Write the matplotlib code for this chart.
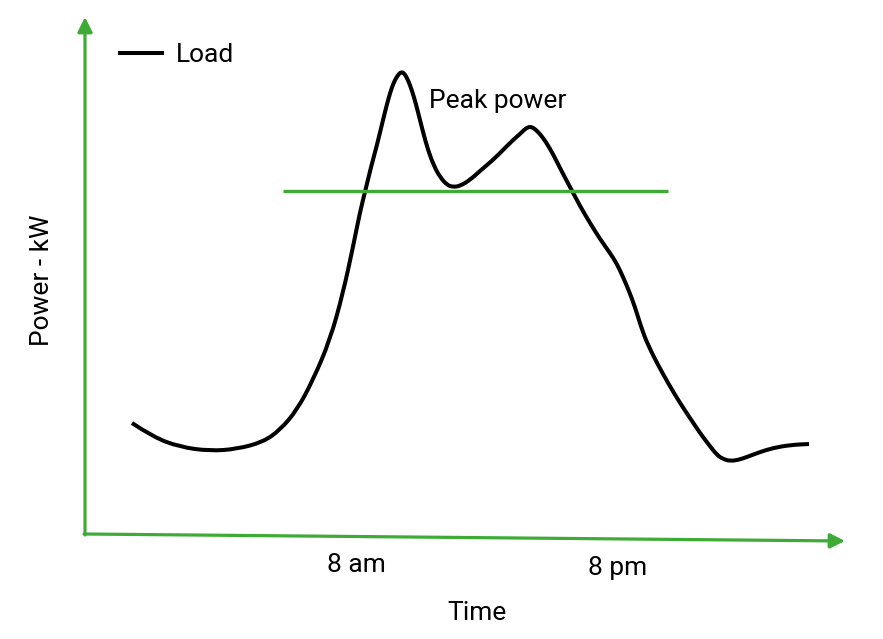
import matplotlib.pyplot as plt
from matplotlib.path import Path
from matplotlib.patches import PathPatch

plt.rcParams['font.family'] = ['Roboto', 'DejaVu Sans']

green = '#3dab35'

# Load curve (x, y in picture units, y grows downward)
load_x = [132, 153, 180, 210, 237, 263, 280, 297, 313, 330, 343, 353, 360, 365,
          371, 377, 383, 388, 392, 395, 398, 401, 404, 407, 410, 414, 418, 423,
          428, 434, 440, 447, 453, 460, 470, 481, 493, 503, 513, 520, 524, 528,
          532, 536, 540, 546, 553, 561, 570, 580, 590, 600, 610, 617, 623, 629,
          635, 643, 650, 657, 668, 680, 690, 700, 709, 717, 723, 730, 738, 747,
          760, 773, 790, 809]
load_y = [423, 437, 447, 451, 449, 442, 430, 410, 380, 340, 293, 247, 212, 192,
          167, 145, 120, 100, 87, 80, 75, 72, 73, 78, 85, 97, 112, 132,
          150, 166, 177, 185, 187, 186, 180, 170, 160, 150, 140, 134, 130, 127,
          127, 130, 134, 142, 154, 170, 187, 206, 223, 239, 253, 264, 277, 291,
          307, 333, 349, 363, 383, 403, 418, 433, 445, 455, 459, 461, 460, 457,
          452, 448, 445, 444]

# Peak power threshold line
peak_x = [283, 668]
peak_y = [191, 191]

tick_pos = [356, 618]
tick_base = [572, 575]
tick_labels = ['8 am', '8 pm']

fig = plt.figure(figsize=(8.83, 6.39), dpi=100)
ax = fig.add_axes([0, 0, 1, 1])
ax.set_xlim(0, 883)
ax.set_ylim(639, 0)
ax.axis('off')

# axes drawn as green arrows
ax.annotate('', xy=(85, 17), xytext=(85, 535),
            arrowprops=dict(arrowstyle='-|>', color=green, lw=2.3,
                            mutation_scale=22, shrinkA=0, shrinkB=0))
ax.annotate('', xy=(845, 541), xytext=(84, 534),
            arrowprops=dict(arrowstyle='-|>', color=green, lw=2.3,
                            mutation_scale=22, shrinkA=0, shrinkB=0))

# smooth load curve: quadratic pieces between midpoints of the read points
pts = list(zip(load_x, load_y))
verts = [pts[0]]
codes = [Path.MOVETO]
for i in range(1, len(pts) - 1):
    mid = ((pts[i][0] + pts[i + 1][0]) / 2, (pts[i][1] + pts[i + 1][1]) / 2)
    verts += [pts[i], mid]
    codes += [Path.CURVE3, Path.CURVE3]
verts.append(pts[-1])
codes.append(Path.LINETO)
ax.add_patch(PathPatch(Path(verts, codes), fill=False, edgecolor='black',
                       lw=2.9, capstyle='butt', joinstyle='round'))

ax.plot(peak_x, peak_y, color=green, lw=2.4, solid_capstyle='butt')

# legend
ax.plot([118, 164], [53, 53], color='black', lw=2.9, solid_capstyle='butt')
ax.text(176, 62, 'Load', fontsize=19, va='baseline', ha='left')

ax.text(429, 108, 'Peak power', fontsize=19, va='baseline', ha='left')

for p, b, lab in zip(tick_pos, tick_base, tick_labels):
    ax.text(p, b, lab, fontsize=19, va='baseline', ha='center')

ax.text(477, 620, 'Time', fontsize=19, va='baseline', ha='center')
ax.text(42, 280, 'Power - kW', fontsize=19, va='center', ha='center',
        rotation=90)

fig.savefig('out.png', dpi=100)
